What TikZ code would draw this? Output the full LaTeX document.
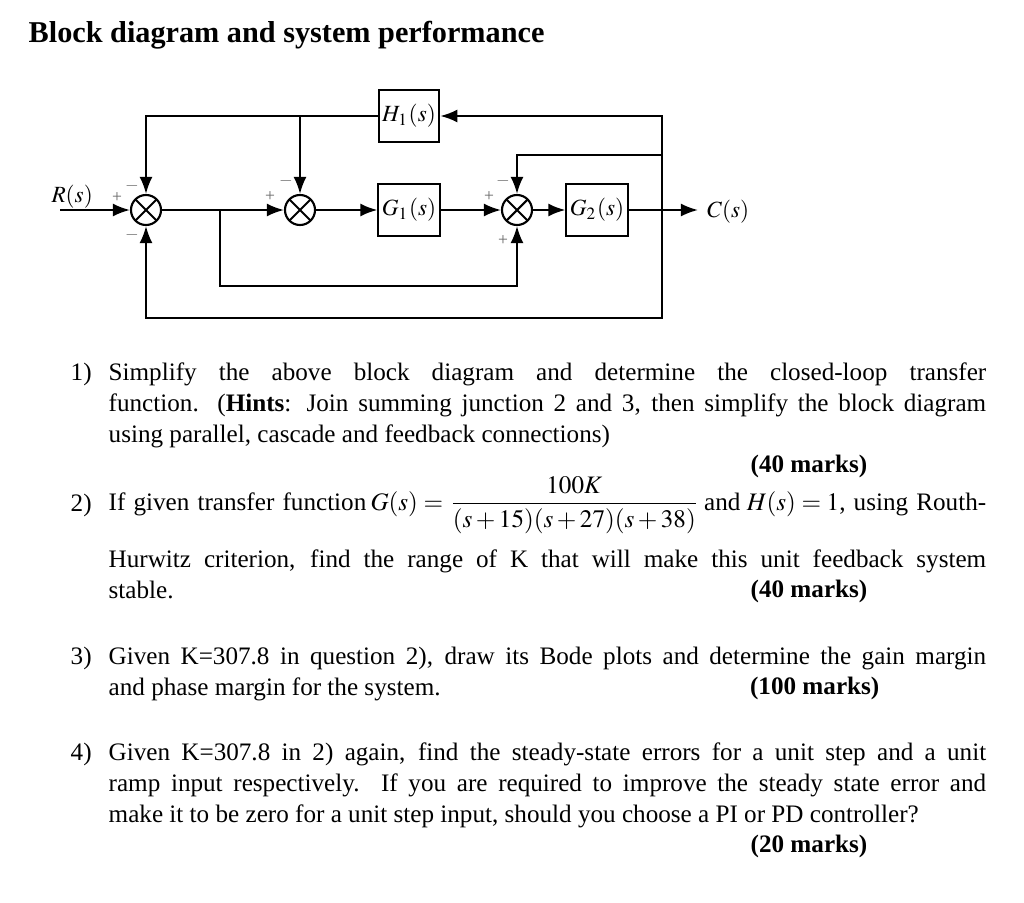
\documentclass[tikz,border=0pt]{standalone}
\usepackage{amsmath}
\usepackage{mathptmx}
\usepackage[no-math]{fontspec}
\setmainfont{Liberation Serif}
\usetikzlibrary{positioning,arrows.meta}
\tikzset{
    blk/.style={rectangle, draw, semithick, minimum width=0.56cm, minimum height=0.52cm, inner sep=1pt, font=\fontsize{6.6}{7}\selectfont},
    sumj/.style={circle, draw, semithick, minimum size=0.3cm, inner sep=0pt,
        path picture={\draw[semithick] (path picture bounding box.north west) -- (path picture bounding box.south east)
            (path picture bounding box.north east) -- (path picture bounding box.south west);}},
    arrow/.style={-{Latex[length=1.7mm,width=1.3mm]}, semithick},
    sgn/.style={font=\fontsize{5}{6}\selectfont, text=black!60, inner sep=0pt},
    sig/.style={font=\fontsize{6.6}{7}\selectfont, inner sep=1pt},
    txt/.style={anchor=north west, inner sep=0pt, align=justify, text width=8.77cm, font=\fontsize{7.15}{8.8}\selectfont},
    num/.style={anchor=north west, inner sep=0pt, font=\fontsize{7.15}{8.8}\selectfont},
    marks/.style={anchor=east, inner sep=0pt, font=\fontsize{7.15}{8.8}\selectfont\bfseries}
}
\begin{document}
\begin{tikzpicture}[x=0.01cm, y=-0.01cm]
    \useasboundingbox (0,0) rectangle (1024,903);

    % Title
    \node[anchor=west, inner sep=0pt, font=\fontsize{8.6}{10}\selectfont\bfseries] (title) at (28,35) {Block diagram and system performance};

    % Block diagram
    \node[sumj] (s1) at (146,210) {};
    \node[sumj] (s2) at (300,210) {};
    \node[blk] (g1) at (409,210) {$G_1(s)$};
    \node[sumj] (s3) at (517,210) {};
    \node[blk] (g2) at (597,210) {$G_2(s)$};
    \node[blk] (h1) at (409,116) {$H_1(s)$};

    \coordinate (rin) at (60,210);
    \coordinate (b1) at (220,210);
    \coordinate (t1) at (662,210);
    \coordinate (cout) at (698,210);

    \node[sig, anchor=east] (rlab) at (97,197) {$R(s)$};
    \node[sig, anchor=west] (clab) at (703,212) {$C(s)$};

    % Forward path
    \draw[arrow] (rin) -- (s1);
    \draw[arrow] (s1) -- (s2);
    \draw[arrow] (s2) -- (g1);
    \draw[arrow] (g1) -- (s3);
    \draw[arrow] (s3) -- (g2);
    \draw[arrow] (g2) -- (cout);

    % Feedback paths
    \draw[arrow] (t1) |- (h1);
    \draw[arrow] (h1) -| (s1);
    \draw[arrow] (h1 -| s2) -- (s2);
    \draw[arrow] (t1 |- 0,155) -| (s3);
    \draw[arrow] (t1) |- (146,318) -- (s1);
    \draw[arrow] (b1) |- (517,286) -- (s3);

    % Signs
    \node[sgn] at (117,198) {+};
    \node[sgn] at (132,186) {$-$};
    \node[sgn] at (132,235) {$-$};
    \node[sgn] at (270,197) {+};
    \node[sgn] at (286,181) {$-$};
    \node[sgn] at (489,197) {+};
    \node[sgn] at (503,181) {$-$};
    \node[sgn] at (503,241) {+};

    % Questions
    \node[num] (n1) at (70,362) {1)};
    \node[txt] (q1) at (108,362) {Simplify the above block diagram and determine the closed-loop transfer\linebreak function. (\textbf{Hints}: Join summing junction 2 and 3, then simplify the block diagram\linebreak using parallel, cascade and feedback connections)};
    \node[marks] (m1) at (868,466) {(40 marks)};

    \node[num, anchor=west] (n2) at (70,505) {2)};
    \node[anchor=west, inner sep=0pt, font=\fontsize{7.15}{8.8}\selectfont] (q2a) at (108,505)
        {\hbox to 8.77cm{If\hfill given\hfill transfer\hfill function\,$G(s)=\dfrac{100K}{(s+15)(s+27)(s+38)}$\,and $H(s)=1$,\hfill using\hfill Routh-}};
    \node[txt] (q2b) at (108,549) {Hurwitz criterion, find the range of K that will make this unit feedback system\linebreak stable.};
    \node[marks] (m2) at (868,591) {(40 marks)};

    \node[num] (n3) at (70,646) {3)};
    \node[txt] (q3) at (108,646) {Given K=307.8 in question 2), draw its Bode plots and determine the gain margin\linebreak and phase margin for the system.};
    \node[marks] (m3) at (880,688) {(100 marks)};

    \node[num] (n4) at (70,742) {4)};
    \node[txt] (q4) at (108,742) {Given K=307.8 in 2) again, find the steady-state errors for a unit step and a unit\linebreak ramp input respectively. If you are required to improve the steady state error and\linebreak make it to be zero for a unit step input, should you choose a PI or PD controller?};
    \node[marks] (m4) at (868,846) {(20 marks)};
\end{tikzpicture}
\end{document}
